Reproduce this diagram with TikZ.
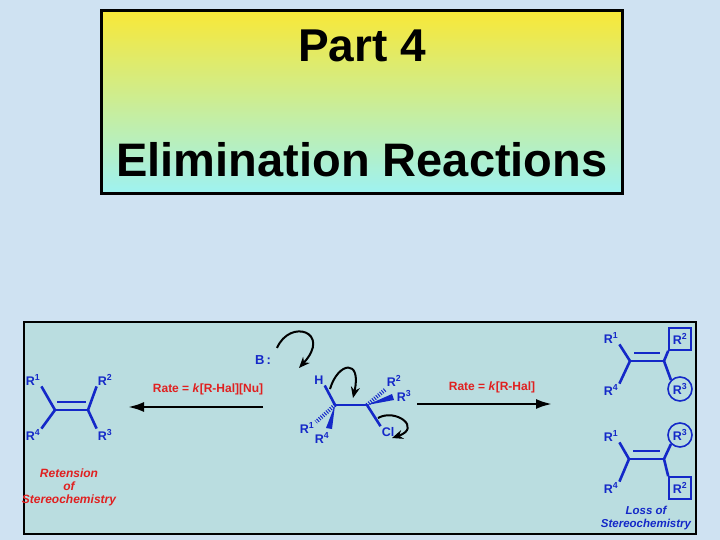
\documentclass[tikz,border=0pt]{standalone}
\usepackage{fontspec}
\setmainfont{Liberation Sans}
\usetikzlibrary{arrows.meta}
\definecolor{bgblue}{HTML}{CFE2F2}
\definecolor{panel}{HTML}{BADDE0}
\definecolor{mblue}{HTML}{1428C8}
\definecolor{mred}{HTML}{E02020}
\definecolor{topy}{HTML}{F8E838}
\definecolor{boty}{HTML}{9EF2F2}
\tikzset{
 bond/.style={mblue,line width=2.6pt},
 lab/.style={mblue,font=\bfseries\fontsize{12.5}{14}\selectfont,inner sep=1pt},
 red/.style={mred,font=\bfseries\itshape\fontsize{12}{13}\selectfont,align=center},
 rate/.style={mred,font=\bfseries\fontsize{12}{14}\selectfont},
 bigarrow/.style={line width=2.4pt,-{Latex[length=16pt,width=10pt]}},
 curly/.style={line width=2pt,-{Stealth[length=11pt,width=9pt]}},
 circ/.style={lab,draw=mblue,line width=1.6pt,circle,inner sep=0.5pt,minimum size=24pt},
 boxr/.style={lab,draw=mblue,line width=1.6pt,minimum size=22pt,inner sep=1pt}
}
\begin{document}
\begin{tikzpicture}[x=1pt,y=-1pt]
\fill[bgblue] (0,0) rectangle (720,540);
\useasboundingbox (0,0) rectangle (720,540);
% title box
\shade[top color=topy,bottom color=boty] (101,11) rectangle (622,194);
\draw[line width=3pt] (101,11) rectangle (622,194);
\node[font=\bfseries\fontsize{46}{50}\selectfont] (t1) at (362,46) {Part 4};
\node[font=\bfseries\fontsize{47}{52}\selectfont] (t2) at (362,160) {Elimination Reactions};
% panel
\fill[panel] (24,322) rectangle (696,534);
\draw[line width=2.5pt] (24,322) rectangle (696,534);
% left alkene
\coordinate (l1) at (55,410); \coordinate (l2) at (88,410);
\node[lab] (lr1) at (33,380) {R\textsuperscript{1}};
\node[lab] (lr2) at (105,380) {R\textsuperscript{2}};
\node[lab] (lr4) at (33,435) {R\textsuperscript{4}};
\node[lab] (lr3) at (105,435) {R\textsuperscript{3}};
\draw[bond] (l1) -- (l2);
\draw[bond] (57,402) -- (86,402);
\draw[bond] (lr1.south east) -- (l1) -- (lr4.north east);
\draw[bond] (lr2.south west) -- (l2) -- (lr3.north west);
\node[red] (ret) at (69,487) {Retension\\of\\Stereochemistry};
% arrows
\coordinate (la1) at (263,407); \coordinate (la2) at (128,407);
\draw[bigarrow] (la1) -- (la2);
\node[rate] (rl) at (208,389) {Rate = \textit{k}[R-Hal][Nu]};
\coordinate (ra1) at (417,404); \coordinate (ra2) at (552,404);
\draw[bigarrow] (ra1) -- (ra2);
\node[rate] (rr) at (492,387) {Rate = \textit{k}[R-Hal]};
% center molecule
\coordinate (ca) at (335,405); \coordinate (cb) at (367,405);
\draw[bond] (ca) -- (cb);
\node[lab] (H) at (319,380) {H};
\draw[bond] (H.south east) -- (ca);
\node[lab] (cr1) at (307,428) {R\textsuperscript{1}};
\node[lab] (cr4) at (322,438) {R\textsuperscript{4}};
\draw[mblue,line width=4pt,dash pattern=on 1pt off 1.5pt] (ca) -- (316,422);
\fill[mblue] (ca) -- (326,428) -- (332,429) -- cycle;
\node[lab] (cr2) at (394,381) {R\textsuperscript{2}};
\node[lab] (cr3) at (404,396) {R\textsuperscript{3}};
\draw[mblue,line width=4pt,dash pattern=on 1pt off 1.5pt] (cb) -- (386,389);
\fill[mblue] (cb) -- (392,394) -- (394,400) -- cycle;
\node[lab] (cl) at (388,432) {Cl};
\draw[bond] (cb) -- (cl.north west);
\node[mblue,font=\bfseries\fontsize{13}{14}\selectfont] (B) at (263,360) {B\,\textbf{:}};
\coordinate (bs) at (277,348); \coordinate (be) at (299,368);
\draw[curly] (bs) .. controls (290,318) and (332,332) .. (be);
\coordinate (hs) at (330,389); \coordinate (he) at (353,398);
\draw[curly] (hs) .. controls (338,362) and (362,358) .. (he);
\coordinate (cs) at (378,418); \coordinate (ce) at (392,438);
\draw[curly] (cs) .. controls (396,408) and (422,428) .. (ce);
% right top
\coordinate (t1a) at (630,361); \coordinate (t1b) at (664,361);
\draw[bond] (t1a) -- (t1b); \draw[bond] (634,353) -- (660,353);
\node[lab] (tr1) at (611,338) {R\textsuperscript{1}};
\node[boxr] (tr2) at (680,339) {R\textsuperscript{2}};
\node[lab] (tr4) at (611,390) {R\textsuperscript{4}};
\node[circ] (tr3) at (680,389) {R\textsuperscript{3}};
\draw[bond] (tr1.south east) -- (t1a) -- (tr4.north east);
\draw[bond] (tr2.south west) -- (t1b) -- (tr3.north west);
% right bottom
\coordinate (b1a) at (629,459); \coordinate (b1b) at (664,459);
\draw[bond] (b1a) -- (b1b); \draw[bond] (633,451) -- (660,451);
\node[lab] (br1) at (611,436) {R\textsuperscript{1}};
\node[circ] (br3) at (680,435) {R\textsuperscript{3}};
\node[lab] (br4) at (611,488) {R\textsuperscript{4}};
\node[boxr] (br2) at (680,488) {R\textsuperscript{2}};
\draw[bond] (br1.south east) -- (b1a) -- (br4.north east);
\draw[bond] (br3.south west) -- (b1b) -- (br2.north west);
\node[mblue,font=\bfseries\itshape\fontsize{11.5}{13}\selectfont,align=center] (loss) at (646,518) {Loss of\\Stereochemistry};
\end{tikzpicture}
\end{document}
